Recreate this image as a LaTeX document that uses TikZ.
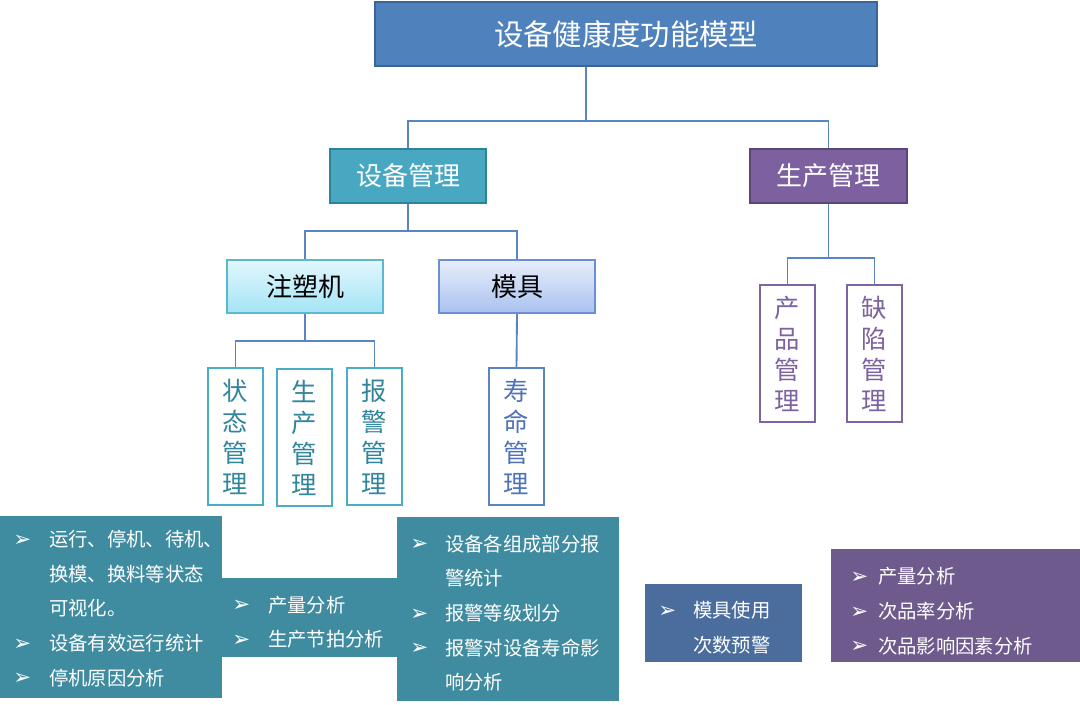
\documentclass[tikz,border=0pt]{standalone}
\usepackage{fontspec}
\setmainfont{Noto Sans CJK SC}
\newfontfamily\symfont{DejaVu Sans}
\usetikzlibrary{shadows}
\renewcommand{\arraystretch}{1.5}
\definecolor{topfill}{HTML}{4F81BD}
\definecolor{topdraw}{HTML}{3A659B}
\definecolor{sbfill}{HTML}{48A8C1}
\definecolor{sbdraw}{HTML}{2E8399}
\definecolor{spfill}{HTML}{7D60A0}
\definecolor{spdraw}{HTML}{5C4677}
\definecolor{conncol}{HTML}{5B84C4}
\definecolor{tealline}{HTML}{4BACC6}
\definecolor{tealtext}{HTML}{31859C}
\definecolor{blueline}{HTML}{5B84C4}
\definecolor{bluetext}{HTML}{4F72B8}
\definecolor{purpline}{HTML}{8064A2}
\definecolor{purptext}{HTML}{7D62A0}
\definecolor{zstop}{HTML}{E2F7FD}
\definecolor{zsbot}{HTML}{A3E4F5}
\definecolor{zsdraw}{HTML}{5BB8D0}
\definecolor{mjtop}{HTML}{E8EEFB}
\definecolor{mjbot}{HTML}{A9C2EF}
\definecolor{mjdraw}{HTML}{6A8FD4}
\definecolor{panelteal}{HTML}{3F8CA1}
\definecolor{panelblue}{HTML}{4A6D9E}
\definecolor{panelpurp}{HTML}{6E5A8C}
\newcommand{\bul}{{\symfont\fontsize{16}{18}\selectfont\raisebox{0.3pt}{➢}}}
\begin{document}
\begin{tikzpicture}[x=0.75pt,y=-0.75pt,
  hdr/.style={rectangle, inner sep=0pt, line width=1.5pt, text=white,
    drop shadow={shadow xshift=1pt, shadow yshift=-1pt, opacity=0.25}},
  sub/.style={rectangle, inner sep=0pt, line width=1.2pt, text=black,
    minimum width=156*0.75pt, minimum height=53*0.75pt,
    font=\fontsize{19.5}{23}\selectfont,
    drop shadow={shadow xshift=1pt, shadow yshift=-1pt, opacity=0.2}},
  conn/.style={draw=conncol, line width=1.4pt},
  vbox/.style={rectangle, inner sep=0pt, fill=white, line width=1.2pt,
    minimum width=55*0.75pt, minimum height=137*0.75pt, align=center,
    font=\fontsize{19}{23.25}\selectfont},
  panel/.style={rectangle, inner sep=0pt, anchor=north west},
  ptext/.style={anchor=west, text=white, inner sep=0pt,
    font=\fontsize{14.5}{17.33}\selectfont}
]
\useasboundingbox (0,0) rectangle (1080,705);

% header boxes
\node[hdr, fill=topfill, draw=topdraw, minimum width=502*0.75pt, minimum height=64*0.75pt,
  font=\fontsize{22}{27}\selectfont] (T) at (626,34) {设备健康度功能模型};
\node[hdr, fill=sbfill, draw=sbdraw, minimum width=156*0.75pt, minimum height=54*0.75pt,
  font=\fontsize{19.5}{23}\selectfont] (SB) at (408,176) {设备管理};
\node[hdr, fill=spfill, draw=spdraw, minimum width=157*0.75pt, minimum height=54*0.75pt,
  font=\fontsize{19.5}{23}\selectfont] (SP) at (828.5,176) {生产管理};

% second level
\node[sub, top color=zstop, bottom color=zsbot, draw=zsdraw] (ZS) at (305,286.5) {注塑机};
\node[sub, top color=mjtop, bottom color=mjbot, draw=mjdraw] (MJ) at (517,286.5) {模具};

% vertical boxes
\node[vbox, draw=tealline, text=tealtext] (v1) at (235.5,436.5) {状\\态\\管\\理};
\node[vbox, draw=tealline, text=tealtext] (v2) at (304.5,437.5) {生\\产\\管\\理};
\node[vbox, draw=tealline, text=tealtext] (v3) at (374.5,436.5) {报\\警\\管\\理};
\node[vbox, draw=blueline, text=bluetext] (v4) at (516.5,436.5) {寿\\命\\管\\理};
\node[vbox, draw=purpline, text=purptext] (p1) at (787.5,353.5) {产\\品\\管\\理};
\node[vbox, draw=purpline, text=purptext] (p2) at (874.5,353.5) {缺\\陷\\管\\理};

% connectors
\draw[conn] ([xshift=-30pt]T.south) -- ++(0,54) coordinate (j1);
\draw[conn] (SB.north) |- (j1) -| (SP.north);
\draw[conn] (SB.south) -- ++(0,27) coordinate (j2);
\draw[conn] (ZS.north) |- (j2) -| (MJ.north);
\draw[conn] (ZS.south) -- ++(0,27) coordinate (j3);
\draw[conn] (v1.north) |- (j3) -| (v3.north);
\draw[conn] (MJ.south) -- (v4.north);
\draw[conn] (SP.south) -- ++(0,54) coordinate (j4);
\draw[conn] (p1.north) |- (j4) -| (p2.north);

% bottom panels
\node[panel, fill=panelteal, minimum width=222*0.75pt, minimum height=182*0.75pt] (A) at (0,516) {};
\node[panel, fill=panelteal, minimum width=176*0.75pt, minimum height=79*0.75pt] (B) at (222,578) {};
\node[panel, fill=panelteal, minimum width=222*0.75pt, minimum height=184*0.75pt] (C) at (397,517) {};
\node[panel, fill=panelblue, minimum width=157*0.75pt, minimum height=78*0.75pt] (D) at (645,584) {};
\node[panel, fill=panelpurp, minimum width=249*0.75pt, minimum height=113*0.75pt] (E) at (831,549) {};

\node[ptext] (At) at (13,609) {\begin{tabular}{@{}p{27pt}@{}l@{}}
\bul & 运行、停机、待机、\\
 & 换模、换料等状态\\
 & 可视化。\\
\bul & 设备有效运行统计\\
\bul & 停机原因分析
\end{tabular}};
\node[ptext] (Bt) at (232,622.5) {\begin{tabular}{@{}p{27pt}@{}l@{}}
\bul & 产量分析\\
\bul & 生产节拍分析
\end{tabular}};
\node[ptext] (Ct) at (410,613.5) {\begin{tabular}{@{}p{26.25pt}@{}l@{}}
\bul & 设备各组成部分报\\
 & 警统计\\
\bul & 报警等级划分\\
\bul & 报警对设备寿命影\\
 & 响分析
\end{tabular}};
\node[ptext] (Dt) at (658,628) {\begin{tabular}{@{}p{26.25pt}@{}l@{}}
\bul & 模具使用\\
 & 次数预警
\end{tabular}};
\node[ptext] (Et) at (850,611.5) {\begin{tabular}{@{}p{21pt}@{}l@{}}
\bul & 产量分析\\
\bul & 次品率分析\\
\bul & 次品影响因素分析
\end{tabular}};
\end{tikzpicture}
\end{document}
